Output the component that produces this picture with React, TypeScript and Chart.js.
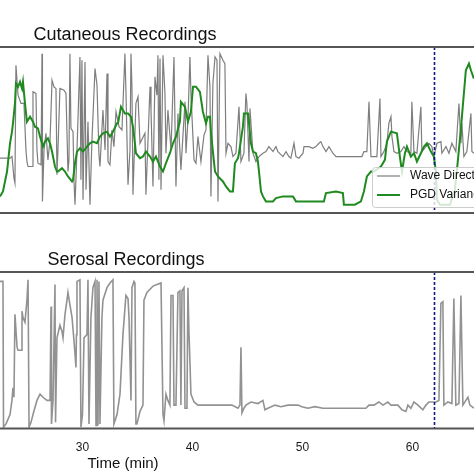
import React, { useEffect, useRef } from "react";
import { Chart, registerables } from "chart.js";

Chart.register(...registerables);

const FONT = "'Liberation Sans', Arial, sans-serif";
const X_MIN = 22.5;
const X_MAX = 65.6;
const xTickValues = [30, 40, 50, 60];
const markerTime = 61.95;

const topTitle = "Cutaneous Recordings";
const bottomTitle = "Serosal Recordings";
const xAxisLabel = "Time (min)";
const waveLabel = "Wave Direction";
const pgdLabel = "PGD Variance";

// Cutaneous: wave direction (grey)
const cutTime = [
  22.5, 23.41, 23.59, 23.77, 23.86, 23.95, 24.14, 24.41, 24.68, 24.86, 24.95, 25.05, 25.41, 25.5, 25.77, 25.86, 25.95, 26.23, 26.32, 26.36,
  26.5, 26.68, 26.86, 27.05, 27.23, 27.41, 27.59, 27.68, 27.77, 27.95, 28.32, 28.5, 28.68, 28.77, 28.86, 28.95, 29.14, 29.23, 29.32, 29.5,
  29.77, 29.86, 29.95, 30.05, 30.23, 30.32, 30.5, 30.68, 30.86, 31.14, 31.32, 31.5, 31.59, 31.86, 32.05, 32.23, 32.32, 32.5, 32.68, 32.86,
  33.05, 33.32, 33.59, 33.86, 33.95, 34.14, 34.32, 34.41, 34.5, 34.59, 34.86, 35.05, 35.23, 35.68, 35.77, 36.14, 36.23, 36.41, 36.59, 36.77,
  36.86, 36.95, 37.05, 37.14, 37.32, 37.5, 37.59, 37.77, 38.05, 38.32, 38.5, 38.68, 38.95, 39.32, 39.41, 39.59, 39.77, 39.86, 40.14, 40.32,
  40.5, 40.77, 41.05, 41.23, 41.41, 41.59, 41.68, 41.86, 42.05, 42.23, 42.32, 42.5, 42.77, 42.95, 43.05, 43.23, 43.5, 43.68, 43.95, 44.23,
  44.41, 44.68, 44.86, 44.95, 45.14, 45.23, 45.5, 45.77, 46.05, 46.41, 46.68, 46.95, 47.32, 47.59, 47.77, 48.23, 48.5, 48.77, 48.95,
  49.23, 49.41, 49.68, 50.05, 50.14, 50.32, 50.59, 50.95, 51.23, 51.5, 51.68, 51.86, 52.14, 52.41, 52.77, 53.05, 53.68, 54.23, 54.68, 55.41,
  55.59, 55.86, 56.05, 56.23, 56.77, 57.05, 57.14, 57.41, 57.68, 57.86, 58.05, 58.14, 58.32, 58.59, 58.95, 59.23, 59.5, 59.86, 59.95,
  60.14, 60.41, 60.77, 60.86, 61.23, 61.5, 61.77, 61.95, 62.23, 62.59, 62.68, 63.05, 63.32, 63.59, 63.95, 64.23, 64.41, 64.5, 64.68, 64.95, 65.32, 65.41, 65.59,
];
const cutWave = [
  33, 33, 34, 21, 18, 89, 71, 66, 66, 38, 31, 28, 28, 73, 72, 38, 30, 29, 96, 7,
  38, 48, 32, 44, 80, 76, 75, 23, 38, 75, 74, 72, 25, 32, 96, 51, 49, 19, 5, 38,
  94, 20, 92, 8, 91, 14, 55, 5, 44, 87, 77, 35, 28, 62, 38, 84, 31, 29, 50, 40,
  61, 52, 50, 96, 74, 17, 38, 96, 75, 11, 66, 70, 42, 48, 11, 76, 62, 16, 82, 71,
  95, 20, 93, 14, 95, 72, 36, 62, 38, 94, 16, 60, 26, 67, 36, 56, 94, 72, 32, 30,
  46, 31, 47, 50, 95, 76, 10, 78, 94, 92, 7, 96, 92, 90, 36, 42, 40, 34, 36, 64,
  31, 36, 72, 66, 31, 63, 36, 31, 34, 36, 37, 40, 37, 40, 37, 34, 37, 34, 33,
  42, 34, 33, 36, 40, 40, 40, 39, 40, 42, 43, 40, 37, 40, 36, 34, 34, 34, 34, 34,
  37, 37, 67, 34, 34, 69, 34, 37, 42, 54, 58, 46, 37, 36, 37, 40, 37, 36, 67,
  37, 36, 64, 37, 40, 42, 40, 34, 42, 43, 36, 40, 36, 42, 37, 66, 42, 54, 34, 37, 60, 37, 36,
];

// Cutaneous: PGD variance (green)
const pgdTime = [
  22.5, 22.77, 23.14, 23.41, 23.59, 23.68, 23.86, 23.95, 24.14, 24.32, 24.5, 24.59, 24.77, 24.95, 25.23, 25.5, 25.68, 25.95, 26.14, 26.32,
  26.41, 26.59, 26.86, 27.05, 27.23, 27.32, 27.5, 27.68, 27.77, 28.14, 28.41, 28.68, 29.05, 29.14, 29.32, 29.5, 29.77, 30.05, 30.41, 30.68,
  30.95, 31.32, 31.59, 31.86, 32.23, 32.5, 32.77, 33.14, 33.23, 33.5, 33.86, 34.14, 34.41, 34.59, 34.77, 34.86, 35.23, 35.5, 35.77, 36.14,
  36.41, 36.68, 37.05, 37.32, 37.59, 37.95, 38.23, 38.5, 38.86, 38.95, 39.32, 39.59, 39.86, 40.05, 40.32, 40.68, 40.95, 41.23, 41.41, 41.59,
  41.68, 41.86, 42.05, 42.32, 42.77, 43.05, 43.41, 43.68, 43.86, 44.14, 44.23, 44.59, 44.68, 45.05, 45.14, 45.32, 45.5, 45.77, 45.95, 46.05,
  46.23, 46.41, 46.68, 47.32, 47.59, 48.23, 48.86, 49.14, 49.41, 50.32, 50.95, 51.5, 51.95, 52.14, 53.05, 53.68, 53.77, 54.77, 55.32, 55.59,
  55.86, 56.23, 56.5, 57.14, 57.5, 57.68, 58.05, 58.59, 58.86, 59.05, 59.32, 59.5, 59.86, 60.14, 60.41, 60.77, 61.05, 61.32, 61.68, 61.95,
  62.14, 62.23, 62.5, 63.41, 63.86, 64.14, 64.41, 64.68, 64.86, 65.14, 65.32, 65.59,
];
const pgdVar = [
  10, 13, 25, 42, 49, 54, 66, 78, 76, 79, 75, 79, 66, 55, 58, 55, 52, 51, 46, 42,
  40, 43, 45, 42, 37, 34, 28, 25, 25, 27, 25, 22, 19, 20, 30, 37, 39, 37, 40, 42,
  43, 42, 46, 48, 49, 46, 49, 54, 54, 64, 60, 60, 58, 52, 42, 36, 33, 34, 37, 34,
  31, 34, 28, 25, 30, 36, 42, 46, 55, 67, 64, 55, 61, 76, 76, 73, 61, 54, 58, 58,
  49, 37, 25, 22, 19, 16, 13, 13, 30, 33, 36, 52, 60, 60, 54, 42, 37, 36, 31, 25,
  13, 10, 7, 7, 9, 10, 10, 10, 7, 7, 7, 7, 7, 12, 13, 12, 5, 5, 7, 13,
  22, 25, 25, 28, 32, 43, 49, 48, 34, 25, 36, 40, 34, 36, 31, 36, 40, 42, 37, 34,
  25, 8, 5, 5, 14, 32, 51, 72, 86, 90, 86, 81,
];

// Serosal: wave direction (grey)
const serTime = [
  22.5, 22.77, 22.82, 23.05, 23.41, 23.59, 23.68, 23.77, 23.86, 24.05, 24.14, 24.41, 24.5, 24.59, 24.77, 24.95, 25.05, 25.14, 25.32, 25.5,
  25.86, 26.14, 26.41, 26.77, 27.05, 27.14, 27.18, 27.32, 27.5, 27.55, 27.68, 27.95, 28.14, 28.23, 28.41, 28.59, 28.68, 28.86, 29.05, 29.23,
  29.41, 29.45, 29.5, 29.77, 29.86, 30.0, 30.14, 30.41, 30.5, 30.59, 30.77, 30.95, 31.14, 31.23, 31.32, 31.41, 31.5, 31.59, 31.77, 31.86,
  32.23, 32.5, 32.77, 32.86, 33.14, 33.41, 33.68, 33.95, 34.14, 34.23, 34.41, 34.5, 34.68, 34.77, 34.86, 34.95, 35.23, 35.5, 35.59, 35.86,
  36.14, 36.41, 36.77, 37.14, 37.32, 37.41, 37.59, 37.77, 37.95, 38.05, 38.23, 38.32, 38.5, 38.68, 38.86, 38.95, 39.05, 39.23, 39.32, 39.5,
  39.59, 39.68, 39.77, 39.86, 40.14, 40.5, 41.14, 41.77, 42.32, 42.95, 43.59, 44.14, 44.32, 44.41, 44.5, 44.68, 44.86, 45.32, 45.95, 46.41,
  46.59, 46.86, 47.5, 48.05, 48.68, 49.05, 49.59, 49.95, 50.5, 51.14, 51.86, 52.5, 53.05, 53.68, 54.32, 54.86, 55.5, 55.77, 56.05, 56.5,
  56.95, 57.32, 57.77, 58.05, 58.68, 59.05, 59.41, 59.59, 59.86, 60.14, 60.5, 60.95, 61.23, 61.5, 61.86, 62.14, 62.41, 62.59, 62.77, 62.86,
  63.23, 63.59, 63.77, 63.95, 64.23, 64.41, 64.59, 64.86, 65.05, 65.23, 65.59,
];
const serWave = [
  94, 94, 1, 3, 9, 18, 26, 20, 73, 52, 50, 50, 75, 71, 68, 82, 95, 1, 4, 9,
  18, 22, 20, 18, 18, 78, 3, 18, 92, 4, 58, 66, 62, 58, 73, 82, 87, 79, 71, 56,
  39, 60, 94, 95, 1, 9, 58, 60, 95, 3, 71, 90, 94, 2, 95, 2, 94, 3, 71, 82,
  90, 93, 95, 3, 9, 22, 60, 85, 83, 71, 18, 90, 94, 93, 3, 3, 11, 15, 82, 87,
  89, 91, 92, 93, 9, 5, 22, 18, 15, 85, 85, 15, 15, 87, 88, 15, 88, 90, 13, 13,
  90, 62, 43, 22, 17, 15, 15, 15, 15, 15, 15, 13, 15, 52, 10, 13, 15, 17, 16, 18,
  12, 13, 15, 14, 15, 15, 15, 14, 13, 14, 13, 13, 13, 13, 13, 13, 13, 13, 15, 15,
  17, 15, 17, 15, 15, 12, 11, 15, 13, 17, 15, 12, 15, 17, 17, 17, 18, 80, 81, 15,
  17, 16, 83, 15, 16, 85, 15, 18, 20, 15, 13,
];

const toPoints = (xs: number[], ys: number[]) => xs.map((x, i) => ({ x, y: ys[i] }));

const panelPlugin = {
  id: "panel",
  afterDatasetsDraw(chart: any, _args: any, opts: any) {
    const { ctx, chartArea: a } = chart;
    const xs = chart.scales.x;
    ctx.save();
    // event marker
    const mx = Math.round(xs.getPixelForValue(markerTime)) + 0.5;
    ctx.strokeStyle = "#14148c";
    ctx.lineWidth = 1.6;
    ctx.setLineDash([3, 2]);
    ctx.beginPath();
    ctx.moveTo(mx, a.top);
    ctx.lineTo(mx, a.bottom);
    ctx.stroke();
    ctx.setLineDash([]);
    // top & bottom spines
    ctx.strokeStyle = "#555";
    ctx.lineWidth = 2;
    ctx.beginPath();
    ctx.moveTo(a.left, a.top);
    ctx.lineTo(a.right, a.top);
    ctx.moveTo(a.left, a.bottom);
    ctx.lineTo(a.right, a.bottom);
    ctx.stroke();
    // legend
    if (opts.legend) {
      const L = opts.legend;
      ctx.fillStyle = "rgba(255,255,255,0.8)";
      ctx.strokeStyle = "rgba(200,200,200,0.9)";
      ctx.lineWidth = 1;
      ctx.beginPath();
      if (ctx.roundRect) ctx.roundRect(L.x + 0.5, L.y + 0.5, L.w, L.h, 3);
      else ctx.rect(L.x + 0.5, L.y + 0.5, L.w, L.h);
      ctx.fill();
      ctx.stroke();
      chart.data.datasets.forEach((ds: any, i: number) => {
        const y = L.y + L.rowY0 + i * L.rowGap;
        ctx.strokeStyle = ds.borderColor;
        ctx.lineWidth = ds.borderWidth;
        ctx.beginPath();
        ctx.moveTo(L.x + 5, y);
        ctx.lineTo(L.x + 28, y);
        ctx.stroke();
        ctx.fillStyle = "#111";
        ctx.font = `12px ${FONT}`;
        ctx.textBaseline = "middle";
        ctx.textAlign = "left";
        ctx.fillText(ds.label, L.x + 38, y);
      });
    }
    // panel title and axis label
    ctx.fillStyle = "#111";
    ctx.textAlign = "center";
    ctx.textBaseline = "middle";
    ctx.font = `18px ${FONT}`;
    ctx.fillText(opts.title, opts.titleX, opts.titleY);
    if (opts.xLabel) {
      ctx.font = `15px ${FONT}`;
      ctx.fillText(opts.xLabel, opts.xLabelX, opts.xLabelY);
    }
    ctx.restore();
  },
};

export default function App() {
  const topRef = useRef<HTMLCanvasElement>(null);
  const botRef = useRef<HTMLCanvasElement>(null);

  useEffect(() => {
    const common = {
      animation: false as const,
      responsive: false,
      events: [] as any[],
    };
    const top = new Chart(topRef.current as HTMLCanvasElement, {
      type: "line",
      data: {
        datasets: [
          {
            label: waveLabel,
            data: toPoints(cutTime, cutWave),
            borderColor: "rgba(112,112,112,0.9)",
            borderWidth: 1.2,
            pointRadius: 0,
            tension: 0,
            order: 1,
          },
          {
            label: pgdLabel,
            data: toPoints(pgdTime, pgdVar),
            borderColor: "#1f8a1f",
            borderWidth: 2,
            pointRadius: 0,
            tension: 0,
            order: 0,
          },
        ],
      },
      options: {
        ...common,
        layout: { padding: { top: 47, bottom: 17, left: 0, right: 0 } },
        scales: {
          x: { type: "linear", min: X_MIN, max: X_MAX, display: false },
          y: { min: 0, max: 100, display: false },
        },
        plugins: {
          legend: { display: false },
          tooltip: { enabled: false },
          panel: {
            title: topTitle,
            titleX: 125,
            titleY: 35,
            legend: { x: 372, y: 167, w: 160, h: 40, rowY0: 9, rowGap: 19 },
          },
        } as any,
      },
      plugins: [panelPlugin],
    } as any);

    const bot = new Chart(botRef.current as HTMLCanvasElement, {
      type: "line",
      data: {
        datasets: [
          {
            label: waveLabel,
            data: toPoints(serTime, serWave),
            borderColor: "rgba(140,140,140,0.95)",
            borderWidth: 1.6,
            pointRadius: 0,
            tension: 0,
          },
        ],
      },
      options: {
        ...common,
        layout: { padding: { top: 42, bottom: 7, left: 0, right: 0 } },
        scales: {
          x: {
            type: "linear",
            min: X_MIN,
            max: X_MAX,
            grid: { display: false, drawTicks: false },
            border: { display: false },
            afterBuildTicks: (s: any) => {
              s.ticks = xTickValues.map((v) => ({ value: v }));
            },
            ticks: {
              padding: 12,
              maxRotation: 0,
              color: "#1a1a1a",
              font: { size: 12, family: FONT },
            },
          },
          y: { min: 0, max: 100, display: false },
        },
        plugins: {
          legend: { display: false },
          tooltip: { enabled: false },
          panel: {
            title: bottomTitle,
            titleX: 126,
            titleY: 30,
            xLabel: xAxisLabel,
            xLabelX: 123,
            xLabelY: 234,
          },
        } as any,
      },
      plugins: [panelPlugin],
    } as any);

    return () => {
      top.destroy();
      bot.destroy();
    };
  }, []);

  return (
    <div
      style={{
        position: "fixed",
        left: 0,
        top: 0,
        width: 474,
        height: 474,
        background: "#fff",
        overflow: "hidden",
      }}
    >
      <canvas ref={topRef} width={474} height={230} style={{ position: "absolute", left: 0, top: 0 }} />
      <canvas ref={botRef} width={474} height={244} style={{ position: "absolute", left: 0, top: 230 }} />
    </div>
  );
}
